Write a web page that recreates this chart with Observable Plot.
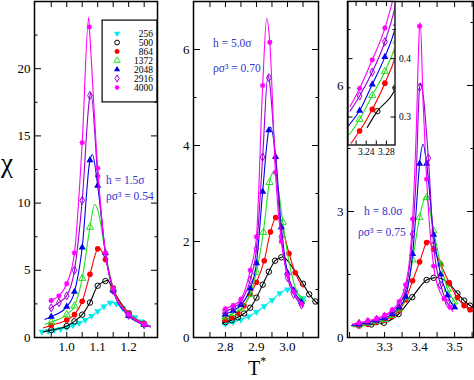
<!DOCTYPE html>
<html><head><meta charset="utf-8">
<script src="https://cdn.jsdelivr.net/npm/d3@7"></script>
<script src="https://cdn.jsdelivr.net/npm/@observablehq/plot@0.6"></script>
<style>
body{margin:0;background:#fff;}
#root{position:relative;width:474px;height:380px;overflow:hidden;font-family:"Liberation Serif","DejaVu Serif",serif;}
#root svg{position:absolute;top:0;}
.ann{position:absolute;color:#3434cc;font-size:11.5px;white-space:nowrap;line-height:1;}
.lab{position:absolute;color:#000;white-space:nowrap;line-height:1;}
</style></head><body><div id="root"></div>
<script>
// ---------- data ----------
const sizes = ["256","500","864","1372","2048","2916","4000"];
const annotations = [["h = 1.5σ","ρσ³ = 0.54"],["h = 5.0σ","ρσ³ = 0.70"],["h = 8.0σ","ρσ³ = 0.75"]];

// Panel 1 (h = 1.5σ)
const p1_256 = [[0.92,0.42],[0.94,0.48],[0.96,0.55],[0.98,0.63],[1.0,0.75],[1.02,0.9],[1.04,1.08],[1.06,1.3],[1.08,1.6],[1.1,1.95],[1.12,2.3],[1.14,2.58],[1.16,2.5],[1.18,2.2],[1.2,1.85],[1.22,1.5],[1.24,1.2]];
const p1_256_line = [[0.915,0.4],[1.145,2.6],[1.27,0.85]];
const p1_500 = [[0.95,0.55],[1.0,0.85],[1.025,1.2],[1.05,1.7],[1.075,2.6],[1.1,3.85],[1.125,4.2],[1.15,3.5],[1.2,1.8],[1.25,1.0]];
const p1_500_line = [[0.925,0.42],[1.132,4.25],[1.27,0.82]];
const p1_864 = [[0.95,0.9],[1.0,1.3],[1.025,1.7],[1.05,2.7],[1.075,4.7],[1.1,6.6],[1.125,5.8],[1.15,3.7],[1.2,1.8],[1.25,1.05]];
const p1_864_line = [[0.925,0.72],[1.104,6.65],[1.27,0.82]];
const p1_1372 = [[0.95,1.15],[1.0,1.7],[1.025,2.35],[1.05,4.4],[1.075,8.2],[1.15,3.6],[1.2,1.7],[1.25,1.0]];
const p1_1372_line = [[0.93,0.98],[1.09,9.9],[1.1,9.5],[1.125,6.3],[1.27,0.8]];
const p1_2048 = [[0.95,1.55],[1.0,2.3],[1.025,3.4],[1.05,6.7],[1.075,13.2],[1.1,11.3],[1.125,6.3],[1.15,3.5],[1.2,1.6],[1.25,0.95]];
const p1_2048_line = [[0.93,1.35],[1.083,13.6],[1.27,0.8]];
const p1_2916 = [[0.95,2.2],[0.975,2.6],[1.0,3.1],[1.025,5.0],[1.05,10.2],[1.075,18.0],[1.1,12.0],[1.125,6.2],[1.15,3.5],[1.2,1.65],[1.25,0.95]];
const p1_2916_line = [[0.945,2.1],[1.078,18.2],[1.27,0.8]];
const p1_4000 = [[0.95,2.75],[0.975,3.1],[1.0,4.0],[1.025,6.3],[1.05,14.5],[1.073,23.1],[1.1,12.6],[1.125,6.3],[1.15,3.6],[1.2,1.7],[1.25,1.0]];
const p1_4000_line = [[0.945,2.65],[1.071,23.8],[1.27,0.8]];

// Panel 2 (h = 5.0σ)
const p2_256 = [[2.8,0.28],[2.825,0.32],[2.85,0.37],[2.875,0.44],[2.9,0.53],[2.925,0.65],[2.95,0.78],[2.975,0.92],[3.0,1.0],[3.025,0.95],[3.05,0.82]];
const p2_256_line = [[2.79,0.26],[3.06,0.76]];
const p2_500 = [[2.8,0.32],[2.82,0.36],[2.84,0.42],[2.86,0.5],[2.88,0.62],[2.9,0.83],[2.92,1.1],[2.94,1.37],[2.96,1.6],[2.98,1.67],[3.05,1.12],[3.07,0.9],[3.09,0.75]];
const p2_500_line = [[2.79,0.3],[2.985,1.68],[3.0,1.6],[3.02,1.42],[3.1,0.69]];
const p2_864 = [[2.8,0.37],[2.82,0.42],[2.84,0.5],[2.86,0.66],[2.88,0.9],[2.9,1.15],[2.925,1.6],[2.945,2.2],[2.962,2.5],[3.005,1.75],[3.025,1.35]];
const p2_864_line = [[2.79,0.35],[2.966,2.52],[2.985,2.25],[3.05,1.05]];
const p2_1372 = [[2.8,0.43],[2.825,0.5],[2.85,0.6],[2.88,0.9],[2.9,1.36],[2.922,2.19],[2.942,3.23],[2.985,2.4],[3.045,0.78]];
const p2_1372_line = [[2.79,0.41],[2.955,3.45],[2.97,3.1],[3.0,1.75],[3.02,1.15],[3.05,0.74]];
const p2_2048 = [[2.8,0.48],[2.825,0.56],[2.85,0.68],[2.88,1.02],[2.9,1.55],[2.92,3.04],[2.94,4.32],[2.962,3.76],[2.98,2.3],[3.0,1.35],[3.02,0.98],[3.045,0.74]];
const p2_2048_line = [[2.79,0.45],[2.946,4.38],[3.05,0.7]];
const p2_2916 = [[2.8,0.54],[2.825,0.62],[2.85,0.75],[2.88,1.2],[2.9,1.85],[2.92,3.76],[2.94,5.41],[2.961,3.75],[2.98,2.1],[3.0,1.25],[3.02,0.9],[3.045,0.68]];
const p2_2916_line = [[2.79,0.5],[2.937,5.46],[3.05,0.65]];
const p2_4000 = [[2.8,0.6],[2.825,0.67],[2.85,0.8],[2.88,1.4],[2.9,2.1],[2.92,5.25],[2.943,6.15],[2.961,3.44],[2.98,2.0],[3.0,1.3],[3.02,0.95],[3.045,0.7]];
const p2_4000_line = [[2.79,0.57],[2.933,6.65],[3.05,0.66]];

// Panel 3 (h = 8.0σ) and its inset
const p3_500 = [[3.262,0.31],[3.298,0.35],[3.34,0.56],[3.379,0.96],[3.42,1.37],[3.44,1.42],[3.484,1.29],[3.508,1.05],[3.527,0.88],[3.544,0.76]];
const p3_500_line = [[3.242,0.282],[3.445,1.43],[3.554,0.72]];
const p3_864 = [[3.227,0.276],[3.252,0.313],[3.277,0.358],[3.3,0.41],[3.322,0.5],[3.342,0.65],[3.36,0.9],[3.38,1.35],[3.4,1.8],[3.42,2.26],[3.44,2.1],[3.46,1.75],[3.484,1.31],[3.508,0.95],[3.527,0.76],[3.544,0.66]];
const p3_864_line = [[3.21,0.255],[3.425,2.3],[3.554,0.62]];
const p3_1372 = [[3.227,0.296],[3.252,0.337],[3.277,0.378],[3.3,0.43],[3.322,0.53],[3.342,0.68],[3.36,0.95],[3.38,1.85],[3.4,2.86],[3.42,3.33],[3.44,2.54],[3.46,1.75],[3.48,1.15],[3.5,0.85]];
const p3_1372_line = [[3.207,0.27],[3.418,3.36],[3.505,0.8]];
const p3_2048 = [[3.227,0.311],[3.252,0.356],[3.277,0.403],[3.3,0.46],[3.322,0.56],[3.342,0.72],[3.36,0.98],[3.38,1.99],[3.4,4.14],[3.42,4.14],[3.44,2.45],[3.46,1.5],[3.48,1.0],[3.5,0.72]];
const p3_2048_line = [[3.205,0.285],[3.39,3.0],[3.41,4.6],[3.505,0.68]];
const p3_2916 = [[3.227,0.336],[3.252,0.377],[3.277,0.429],[3.3,0.5],[3.322,0.62],[3.342,0.8],[3.36,1.12],[3.38,2.46],[3.4,5.96],[3.425,4.27],[3.44,2.2],[3.46,1.25],[3.48,0.82]];
const p3_2916_line = [[3.208,0.31],[3.39,3.8],[3.403,6.05],[3.495,0.66]];
const p3_4000 = [[3.227,0.349],[3.252,0.398],[3.277,0.4525],[3.3,0.53],[3.322,0.66],[3.342,0.86],[3.36,1.26],[3.38,2.82],[3.4,7.41],[3.42,3.77],[3.44,1.7],[3.47,0.92],[3.487,0.72]];
const p3_4000_line = [[3.208,0.318],[3.372,1.9],[3.39,4.8],[3.402,7.5],[3.41,5.6],[3.43,2.5],[3.46,1.05],[3.495,0.62]];

// axis ticks
const p1_xticks = [1.0,1.1,1.2], p1_xminor = [0.95,1.05,1.15,1.25], p1_yticks = [0,5,10,15,20], p1_yminor = [2.5,7.5,12.5,17.5,22.5];
const p2_xticks = [2.8,2.9,3.0], p2_xminor = [2.75,2.85,2.95,3.05], p2_yticks = [0,2,4,6], p2_yminor = [1,3,5];
const p3_xticks = [3.3,3.4,3.5], p3_xminor = [3.2,3.25,3.35,3.45,3.55], p3_yticks = [0,3,6], p3_yminor = [1.5,4.5,7.5];
const in_xticks = [3.24,3.28], in_xminor = [3.22,3.26], in_yticks = [0.3,0.4], in_yminor = [0.35,0.45];

// ---------- styles ----------
const COL = {"256":"#00ecec","500":"#000000","864":"#ff0000","1372":"#22e022","2048":"#0000ee","2916":"#9a00d6","4000":"#ff00ff"};
const triDown = {draw(ctx, size){ const y = -Math.sqrt(size/(Math.sqrt(3)*3)); ctx.moveTo(0,-2*y); ctx.lineTo(-Math.sqrt(3)*y, y); ctx.lineTo(Math.sqrt(3)*y, y); ctx.closePath(); }};
const star8 = {draw(ctx, size){ const R = Math.sqrt(size/Math.PI)*1.25, r0 = R*0.68; for (let i=0;i<16;i++){ const a = i*Math.PI/8 - Math.PI/2, rr = i%2 ? r0 : R; const px = rr*Math.cos(a), py = rr*Math.sin(a); if (i) ctx.lineTo(px,py); else ctx.moveTo(px,py);} ctx.closePath(); }};
const STY = {
  "256": {sym: triDown, open:false, r:3.0},
  "500": {sym:"circle", open:true, r:3.2},
  "864": {sym:"circle", open:false, r:3.3},
  "1372": {sym:"triangle", open:true, r:3.1},
  "2048": {sym:"triangle", open:false, r:3.1},
  "2916": {sym:"diamond", open:true, r:2.9},
  "4000": {sym: star8, open:false, r:2.9}
};
function dots(data, key, chan, k=1){
  const s = STY[key], c = COL[key];
  return Plot.dot(data, {...chan, symbol: s.sym, r: s.r*k, fill: s.open ? "none" : c, stroke: s.open ? c : "none", strokeWidth: 1});
}
function merged(m, l){ return [...m, ...l].sort((a,b)=>a[0]-b[0]); }

function frameAxes(o){
  const m = [];
  const xl = o.xLen ?? 5, yl = o.yLen ?? 7, yml = o.yMinLen ?? 3.5;
  for (const a of ["bottom","top"]) {
    m.push(Plot.axisX({anchor:a, ticks:o.xMajor, tickSize:-xl, fill:"none", label:null}));
    if (o.xMinor) m.push(Plot.axisX({anchor:a, ticks:o.xMinor, tickSize:-(o.xMinLen ?? xl), fill:"none", label:null}));
  }
  for (const a of ["left","right"]) {
    m.push(Plot.axisY({anchor:a, ticks:o.yMajor, tickSize:-yl, fill:"none", label:null}));
    if (o.yMinor) m.push(Plot.axisY({anchor:a, ticks:o.yMinor, tickSize:-yml, fill:"none", label:null}));
  }
  m.push(Plot.axisX({anchor:"bottom", ticks:o.xMajor, tickSize:0, tickPadding:o.xPad ?? 4, tickFormat:o.xFmt, label:null, fontSize:o.fs}));
  m.push(Plot.axisY({anchor:o.yAnchor ?? "left", ticks:o.yMajor, tickSize:0, tickPadding:o.yPad ?? 4, tickFormat:o.yFmt, label:null, fontSize:o.fs}));
  return m;
}

const root = document.getElementById("root");
const baseStyle = {fontFamily:"'Liberation Serif', serif", fontSize:"13px", background:"none", overflow:"visible", color:"black"};
const xy = {x: d=>d[0], y: d=>d[1]};

function panel(cfg){
  const marks = [];
  for (const key of cfg.keys) {
    const [m, l] = cfg.data[key];
    marks.push(Plot.line(merged(m, l), {...xy, stroke: COL[key], strokeWidth: 1.1, curve: "monotone-x", clip: true}));
    marks.push(dots(m, key, {...xy, clip: true}, cfg.k ?? 1));
  }
  marks.push(...frameAxes(cfg.axes));
  marks.push(Plot.frame({stroke:"black", strokeWidth: cfg.frameW ?? 1.5}));
  const svg = Plot.plot({
    width: cfg.width, height: cfg.height, marginLeft: cfg.mL, marginRight: cfg.mR, marginTop: cfg.mT, marginBottom: cfg.mB,
    x: {domain: cfg.xDomain}, y: {domain: cfg.yDomain},
    style: baseStyle,
    marks: cfg.under ? [...cfg.under, ...marks] : marks
  });
  svg.style.left = cfg.left + "px";
  svg.style.top = (cfg.top ?? 0) + "px";
  root.appendChild(svg);
}

const f1 = d3.format(".1f");
const P1 = {"256":[p1_256,p1_256_line],"500":[p1_500,p1_500_line],"864":[p1_864,p1_864_line],"1372":[p1_1372,p1_1372_line],"2048":[p1_2048,p1_2048_line],"2916":[p1_2916,p1_2916_line],"4000":[p1_4000,p1_4000_line]};
const P2 = {"256":[p2_256,p2_256_line],"500":[p2_500,p2_500_line],"864":[p2_864,p2_864_line],"1372":[p2_1372,p2_1372_line],"2048":[p2_2048,p2_2048_line],"2916":[p2_2916,p2_2916_line],"4000":[p2_4000,p2_4000_line]};
const P3 = {"500":[p3_500,p3_500_line],"864":[p3_864,p3_864_line],"1372":[p3_1372,p3_1372_line],"2048":[p3_2048,p3_2048_line],"2916":[p3_2916,p3_2916_line],"4000":[p3_4000,p3_4000_line]};

panel({left:0, width:160, height:380, mL:34, mR:3, mT:1, mB:43, xDomain:[0.896,1.293], yDomain:[0,25], keys:sizes, data:P1, k:0.85,
  axes:{xMajor:p1_xticks, xMinor:p1_xminor, yMajor:p1_yticks, yMinor:p1_yminor, xFmt:f1, yFmt:d3.format("d"), fs:13}});
panel({left:160, width:162, height:380, mL:33, mR:4, mT:1, mB:43, xDomain:[2.697,3.1], yDomain:[0,7], keys:sizes, data:P2, k:0.85,
  axes:{xMajor:p2_xticks, xMinor:p2_xminor, yMajor:p2_yticks, yMinor:p2_yminor, xFmt:f1, yFmt:d3.format("d"), fs:13}});
panel({left:322, width:152, height:380, mL:25, mR:1, mT:1, mB:43, xDomain:[3.194,3.554], yDomain:[0,8], keys:sizes.slice(1), data:P3, k:0.85,
  axes:{xMajor:p3_xticks, xMinor:p3_xminor, yMajor:p3_yticks, yMinor:p3_yminor, xFmt:f1, yFmt:d3.format("d"), fs:13}});
// inset
panel({left:346, width:72, height:162, mL:1.5, mR:23.5, mT:1, mB:17.5, xDomain:[3.204,3.297], yDomain:[0.252,0.498], keys:sizes.slice(1), data:P3, k:0.85, frameW:1.3,
  under:[Plot.frame({fill:"white", stroke:"none"})],
  axes:{xMajor:in_xticks, xMinor:in_xminor, xLen:4, yMajor:in_yticks, yMinor:in_yminor, yLen:5, yMinLen:3, xFmt:d3.format(".2f"), yFmt:f1, fs:9.5, yAnchor:"right", xPad:3, yPad:4}});

// legend (point scale over system sizes)
{
  const marks = [Plot.frame({fill:"white", stroke:"none"})];
  for (const s of sizes) marks.push(dots([s], s, {y: d=>d, frameAnchor:"left", dx:15}, 0.75));
  marks.push(Plot.text(sizes, {y: d=>d, text: d=>d, frameAnchor:"right", textAnchor:"end", dx:-4, fontSize:9.5}));
  marks.push(Plot.frame({stroke:"black", strokeWidth:1.2, fill:"none"}));
  const svg = Plot.plot({width:56, height:83, margin:0.6, x:{axis:null, domain:[0,1]}, y:{type:"point", domain:sizes, range:[8,73], axis:null},
    style: baseStyle, marks});
  svg.style.left = "101px"; svg.style.top = "19px";
  root.appendChild(svg);
}

// text labels
function addDiv(cls, html, left, top, extra){ const d = document.createElement("div"); d.className = cls; d.innerHTML = html; d.style.left = left+"px"; d.style.top = top+"px"; if (extra) Object.assign(d.style, extra); root.appendChild(d); }
addDiv("lab", "χ", 1, 150, {fontSize:"27px"});
addDiv("lab", "T<span style=\"font-size:12px;position:relative;top:-10px;\">*</span>", 248, 358, {fontSize:"20px"});
const annPos = [[106,175,106,191],[213,38,213,63],[364,206,358,227]];
annotations.forEach((a,i)=>{ const p = annPos[i]; addDiv("ann", a[0], p[0], p[1]); addDiv("ann", a[1], p[2], p[3]); });
</script></body></html>
